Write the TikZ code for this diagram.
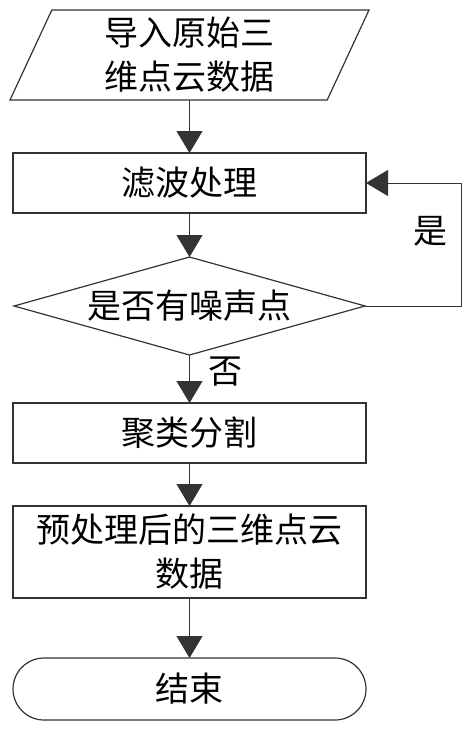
\documentclass[tikz,border=0pt]{standalone}
\usepackage{fontspec}
\newfontfamily\cjk{Noto Sans CJK SC}
\usetikzlibrary{arrows.meta,shapes.geometric,positioning}

\begin{document}
\begin{tikzpicture}[x=1pt,y=1pt,
    every node/.style={draw=black!80,line width=1.2pt,inner sep=0pt,outer sep=0pt,align=center,font=\cjk\fontsize{34}{44}\selectfont},
    box/.style={rectangle,minimum width=353pt,minimum height=60pt},
    io/.style={trapezium,trapezium left angle=61,trapezium right angle=119,trapezium stretches body,minimum width=359pt,minimum height=90pt},
    test/.style={diamond,aspect=3.58,minimum width=351pt,minimum height=98pt},
    term/.style={rectangle,rounded corners=31pt,minimum width=353pt,minimum height=62pt},
    flow/.style={draw=black!80,line width=0.9pt,-{Triangle[length=22pt,width=26pt]}},
    tag/.style={draw=none}]
    \useasboundingbox (0,0) rectangle (474,-732);
    \node[io] (in) at (189.5,-55) {导入原始三\\维点云数据};
    \node[box,below=53pt of in] (filter) {滤波处理};
    \node[test,below=44pt of filter] (noise) {是否有噪声点};
    \node[box,below=48pt of noise] (cluster) {聚类分割};
    \node[box,minimum height=92pt,below=43pt of cluster] (result) {预处理后的三维点云\\数据};
    \node[term,below=60pt of result] (end) {结束};
    \node[tag] (yes) at (430,-231) {是};
    \node[tag] (no) at (225,-372) {否};

    \draw[flow] (in) -- (filter);
    \draw[flow] (filter) -- (noise);
    \draw[flow] (noise) -- (cluster);
    \draw[flow] (cluster) -- (result);
    \draw[flow] (result) -- (end);
    \draw[flow] (noise.east) -- ++(96,0) |- (filter.east);
\end{tikzpicture}
\end{document}
